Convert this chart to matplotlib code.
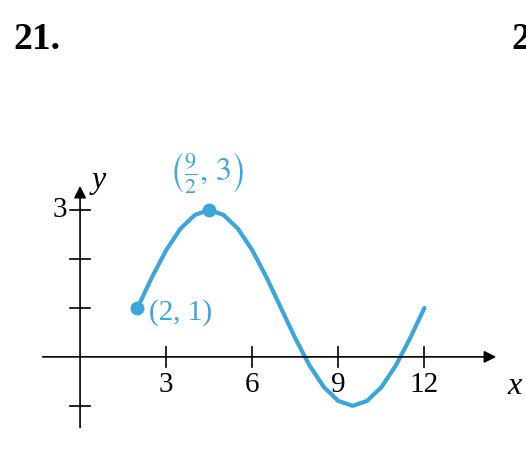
import matplotlib
matplotlib.use("Agg")
import matplotlib.pyplot as plt

# curve points
xs = [2, 2.5, 3, 3.5, 4, 4.5, 5, 5.5, 6, 6.5, 7, 7.5, 8, 8.5, 9, 9.5, 10, 10.5, 11, 11.5, 12]
ys = [1, 1.62, 2.18, 2.62, 2.90, 3, 2.90, 2.62, 2.18, 1.62, 1, 0.38, -0.18, -0.62, -0.90,
      -1, -0.90, -0.62, -0.18, 0.38, 1]
xticks = [3, 6, 9, 12]
yticks = [-1, 1, 2, 3]
blue = "#3aa6dd"

plt.rcParams["font.family"] = ["Liberation Serif", "DejaVu Serif"]
plt.rcParams["mathtext.fontset"] = "stix"

fig = plt.figure(figsize=(5.26, 4.68), dpi=100)
ax = fig.add_axes([0, 0, 1, 1])
ax.set_xlim(-2.79, 15.54)
ax.set_ylim(-2.27, 7.29)
ax.axis("off")

# axes with arrows
ax.annotate("", xy=(14.6, 0), xytext=(-1.4, 0),
            arrowprops=dict(arrowstyle="-|>", color="black", lw=1.2, mutation_scale=18))
ax.annotate("", xy=(0, 3.55), xytext=(0, -1.5),
            arrowprops=dict(arrowstyle="-|>", color="black", lw=1.2, mutation_scale=18))
for t in xticks:
    ax.plot([t, t], [-0.2, 0.2], color="black", lw=1.2)
    ax.text(t, -0.3, str(t), ha="center", va="top", fontsize=21)
for t in yticks:
    ax.plot([-0.35, 0.35], [t, t], color="black", lw=1.2)
ax.text(-0.45, 3, "3", ha="right", va="center", fontsize=21)
ax.text(14.9, -0.3, "x", ha="left", va="top", fontsize=23, style="italic")
ax.text(0.4, 3.6, "y", ha="left", va="center", fontsize=23, style="italic")

ax.plot(xs, ys, color=blue, lw=3, solid_joinstyle="round", solid_capstyle="round")
ax.plot([2, 4.5], [1, 3], "o", color=blue, ms=9)
ax.text(2.4, 0.9, "(2, 1)", color=blue, fontsize=21, va="center")
ax.text(4.4, 3.75, r"$\left(\frac{9}{2},\,3\right)$", color=blue, fontsize=23,
        ha="center", va="center")

fig.text(0.025, 0.915, "21.", fontsize=27, weight="bold", va="center")
fig.text(0.972, 0.915, "2", fontsize=27, weight="bold", va="center")

fig.savefig("out.png", dpi=100, facecolor="white")
